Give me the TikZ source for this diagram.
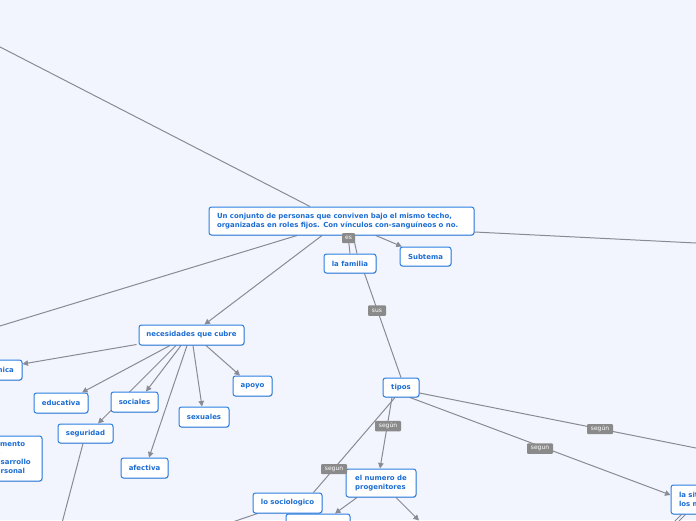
\documentclass[tikz,border=0pt]{standalone}
\usepackage{fontspec}
\setmainfont{DejaVu Sans}
\usetikzlibrary{arrows.meta,shadows}
\definecolor{bgc}{HTML}{F2F5FD}
\definecolor{nblue}{HTML}{2B7FE3}
\definecolor{tblue}{HTML}{1B6CD3}
\definecolor{lgray}{HTML}{8A8A94}
\definecolor{labc}{HTML}{8A8A8A}
\pgfdeclarelayer{bg}
\pgfdeclarelayer{lines}
\pgfsetlayers{bg,lines,main}
\tikzset{
  box/.style={draw=nblue, line width=1pt, fill=white, rounded corners=2.5pt,
    text=tblue, font=\fontsize{6.95}{9}\selectfont\bfseries, inner sep=0pt, align=center,
    drop shadow={shadow xshift=0.6pt, shadow yshift=-0.8pt, fill=black, opacity=0.18}},
  conn/.style={draw=lgray, line width=1pt},
  arr/.style={conn, -{Triangle[width=5.5pt,length=5.5pt]}},
  lbl/.style={fill=labc, text=white, rounded corners=1pt, font=\fontsize{6}{6}\selectfont,
    inner sep=0pt, minimum height=10.5pt},
}
\begin{document}
\begin{tikzpicture}[x=1pt,y=-1pt]
\begin{pgfonlayer}{bg}
\fill[bgc] (0,0) rectangle (696,520);
\end{pgfonlayer}
\useasboundingbox (0,0) rectangle (696,520);

% nodes
\node[box, minimum width=265pt, minimum height=28pt, align=left, text width=249pt] (main) at (341.5,221)
  {Un conjunto de personas que conviven bajo el mismo techo,\\organizadas en roles fijos. Con vínculos con-sanguíneos o no.};
\node[box, minimum width=52pt, minimum height=19pt] (fam) at (350,263.5) {la familia};
\node[box, minimum width=51pt, minimum height=19pt] (sub) at (425.5,256.5) {Subtema};
\node[box, minimum width=105pt, minimum height=20pt] (nec) at (191.5,335) {necesidades que cubre};
\node[box, minimum width=58pt, minimum height=20pt] (eco) at (-7,370) {económica};
\node[box, minimum width=54pt, minimum height=20pt] (edu) at (61,403) {educativa};
\node[box, minimum width=47pt, minimum height=20pt] (soc) at (134.5,402) {sociales};
\node[box, minimum width=55pt, minimum height=19pt] (seg) at (85.5,433.5) {seguridad};
\node[box, minimum width=57pt, minimum height=45pt, align=left, text width=45pt] (fom) at (13.5,458.5) {Fomento\\de\\desarrollo\\personal};
\node[box, minimum width=47pt, minimum height=20pt] (afe) at (144.5,468) {afectiva};
\node[box, minimum width=50pt, minimum height=20pt] (sex) at (204,417) {sexuales};
\node[box, minimum width=39pt, minimum height=20pt] (apo) at (252.5,386) {apoyo};
\node[box, minimum width=36pt, minimum height=19pt] (tip) at (401,387.5) {tipos};
\node[box, minimum width=70pt, minimum height=28pt, align=left] (num) at (381,483) {el numero de\\progenitores};
\node[box, minimum width=69pt, minimum height=20pt] (soci) at (287.5,503) {lo sociologico};
\node[box, minimum width=64pt, minimum height=20pt] (bot) at (318,524) {};
\node[box, minimum width=90pt, minimum height=29pt, align=left, text width=74pt] (sit) at (716,499.5) {la situación de\\los miembros};

% free ends
\coordinate (tl) at (-10,41.8);
\coordinate (rt) at (706,243.5);
\coordinate (lf) at (-10,329);
\coordinate (sb) at (57.5,540);
\coordinate (rb) at (706,450);
\coordinate (nb) at (419,520.5);
\coordinate (sl) at (200,533);
\coordinate (s1) at (670,526);
\coordinate (s2) at (674,526);

\begin{pgfonlayer}{lines}
\draw[conn] ([xshift=-31.5pt]main.north) -- (tl);
\draw[conn] ([yshift=-11pt]main.east) -- (rt);
\draw[conn] ([xshift=-44.5pt]main.south) -- (lf);
\draw[arr] ([xshift=-19.5pt]main.south) -- ([xshift=13pt]nec.north);
\draw[conn] ([xshift=6.5pt]main.south) -- (fam.north);
\draw[conn] ([xshift=11.5pt]main.south) -- ([xshift=7pt]fam.north);
\draw[arr] (main) -- (sub);
\draw[conn] ([xshift=14.5pt]fam.south) -- (tip.north);
\draw[arr] ([xshift=-2pt,yshift=1pt]nec.south west) -- ([yshift=6pt]eco.east);
\draw[arr] ([xshift=-21.5pt]nec.south) -- ([xshift=21pt]edu.north);
\draw[arr] ([xshift=-15.5pt]nec.south) -- ([xshift=12.5pt]seg.north);
\draw[arr] ([xshift=-10.5pt]nec.south) -- ([xshift=11.5pt]soc.north);
\draw[arr] ([xshift=-4.5pt]nec.south) -- ([xshift=4.5pt]afe.north);
\draw[arr] ([xshift=1.5pt]nec.south) -- ([xshift=-2pt]sex.north);
\draw[arr] ([xshift=14.5pt]nec.south) -- ([xshift=-12.5pt]apo.north);
\draw[conn] ([xshift=-2.5pt]seg.south) -- (sb);
\draw[conn] ([xshift=-6pt]tip.south) -- ([xshift=26pt]soci.north);
\draw[arr] ([xshift=-9pt]tip.south) -- ([xshift=-1pt]num.north);
\draw[arr] ([xshift=9pt]tip.south) -- ([yshift=4.5pt]sit.west);
\draw[conn] ([yshift=-5.5pt]tip.east) -- (rb);
\draw[arr] ([xshift=-24pt]num.south) -- ([xshift=17pt]bot.north);
\draw[arr] ([xshift=15pt]num.south) -- (nb);
\draw[conn] ([xshift=5pt]soci.south west) -- (sl);
\draw[conn] ([xshift=11pt]sit.south west) -- (s1);
\draw[conn] ([xshift=15pt]sit.south west) -- (s2);
\end{pgfonlayer}

% labels
\node[lbl, minimum width=13pt, minimum height=10pt] (les) at (348.5,238) {es};
\node[lbl, minimum width=18pt] (lsus) at (377,310.5) {sus};
\node[lbl, minimum width=26pt] (lg1) at (388,426) {según};
\node[lbl, minimum width=26pt, minimum height=10pt] (lg2) at (334,469) {segun};
\node[lbl, minimum width=26pt] (lg3) at (540,448.5) {segun};
\node[lbl, minimum width=26pt, minimum height=10pt] (lg4) at (600,429) {según};
\end{tikzpicture}
\end{document}
